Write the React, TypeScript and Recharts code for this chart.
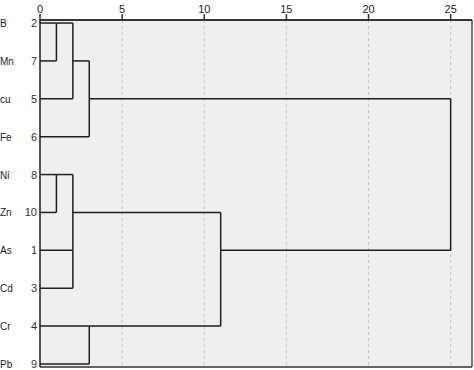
import {
  CartesianGrid,
  ComposedChart,
  ReferenceLine,
  Scatter,
  XAxis,
  YAxis,
} from "recharts";

// leaves top to bottom, with the SPSS case number shown next to each
const leafNames = ["B", "Mn", "cu", "Fe", "Ni", "Zn", "As", "Cd", "Cr", "Pb"];
const caseNums = [2, 7, 5, 6, 8, 10, 1, 3, 4, 9];
const xTicks = [0, 5, 10, 15, 20, 25];

// agglomeration steps: children are leaf indexes or earlier merge ids,
// height is the rescaled distance where they join
const merges = [
  { id: "m0", children: [0, 1], height: 1 },
  { id: "m1", children: ["m0", 2], height: 2 },
  { id: "m2", children: ["m1", 3], height: 3 },
  { id: "m3", children: [4, 5], height: 1 },
  { id: "m4", children: ["m3", 6, 7], height: 2 },
  { id: "m5", children: [8, 9], height: 3 },
  { id: "m6", children: ["m4", "m5"], height: 11 },
  { id: "m7", children: ["m2", "m6"], height: 25 },
];

const X_MAX = 26.3;
const Y_MIN = -0.08;
const Y_MAX = 9.08;

type Seg = { x1: number; x2: number; y1: number; y2: number };

// walk the merges and turn them into the elbow segments SPSS draws:
// one horizontal per child at its row, one vertical at the merge height
function buildSegments(): Seg[] {
  const row: Record<string, number> = {};
  const level: Record<string, number> = {};
  leafNames.forEach((_, i) => {
    row[String(i)] = i;
    level[String(i)] = 0;
  });
  const segs: Seg[] = [];
  for (const m of merges) {
    const rows = m.children.map((c) => row[String(c)]);
    m.children.forEach((c) => {
      const k = String(c);
      segs.push({ x1: level[k], x2: m.height, y1: row[k], y2: row[k] });
    });
    const lo = Math.min(...rows);
    const hi = Math.max(...rows);
    segs.push({ x1: m.height, x2: m.height, y1: lo, y2: hi });
    row[m.id] = Math.floor((lo + hi) / 2);
    level[m.id] = m.height;
  }
  return segs;
}

const segments = buildSegments();
const leafPoints = leafNames.map((_, i) => ({ x: 0, y: i }));

function LeafTick(props: any) {
  const { x, y, payload } = props;
  const i = payload.value as number;
  return (
    <g>
      <text x={x - 37} y={y} dy={4} fontSize={10} fill="#222" textAnchor="start">
        {leafNames[i]}
      </text>
      <text x={x} y={y} dy={4} fontSize={11} fill="#333" textAnchor="end">
        {caseNums[i]}
      </text>
    </g>
  );
}

export default function App() {
  return (
    <div style={{ fontFamily: "'Liberation Sans', Arial, sans-serif" }}>
      <style>{`body{margin:0}`}</style>
      <ComposedChart
        width={474}
        height={370}
        data={leafPoints}
        margin={{ top: 0, right: 2, bottom: 3, left: 0 }}
      >
        <CartesianGrid
          horizontal={false}
          fill="#efefef"
          stroke="#c4c4c4"
          strokeDasharray="3 3"
        />
        <XAxis
          xAxisId={0}
          orientation="top"
          type="number"
          dataKey="x"
          domain={[0, X_MAX]}
          ticks={xTicks}
          interval={0}
          height={20}
          tickSize={6}
          tickMargin={1}
          axisLine={{ stroke: "#333", strokeWidth: 2 }}
          tickLine={{ stroke: "#333", strokeWidth: 1.5 }}
          tick={{ fontSize: 11, fill: "#222" }}
        />
        <YAxis
          yAxisId={0}
          type="number"
          dataKey="y"
          domain={[Y_MIN, Y_MAX]}
          reversed
          ticks={leafNames.map((_, i) => i)}
          interval={0}
          width={40}
          tickSize={0}
          tickMargin={3}
          tickLine={false}
          axisLine={{ stroke: "#222", strokeWidth: 1.5 }}
          tick={<LeafTick />}
        />
        <Scatter data={leafPoints} shape={() => <g />} isAnimationActive={false} />
        {segments.map((s, i) => (
          <ReferenceLine
            key={i}
            segment={[
              { x: s.x1, y: s.y1 },
              { x: s.x2, y: s.y2 },
            ]}
            stroke="#1e1e1e"
            strokeWidth={1.5}
            ifOverflow="visible"
          />
        ))}
        <ReferenceLine x={X_MAX} stroke="#777" strokeWidth={2} ifOverflow="visible" />
        <ReferenceLine y={Y_MAX} stroke="#333" strokeWidth={1.5} ifOverflow="visible" />
      </ComposedChart>
    </div>
  );
}
